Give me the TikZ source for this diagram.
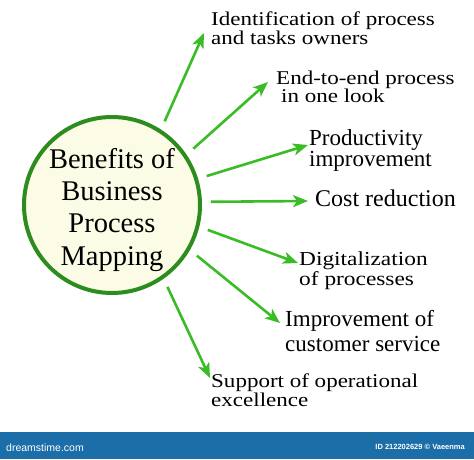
\documentclass[tikz,border=0pt]{standalone}
\usepackage{fontspec}
\setmainfont{Liberation Serif}
\newfontfamily\widefont[FakeStretch=1.18]{Liberation Serif}
\newfontfamily\barfont{Liberation Sans}
\usetikzlibrary{arrows.meta}

\definecolor{arrowgreen}{RGB}{58,188,38}
\definecolor{ringgreen}{RGB}{45,140,30}
\definecolor{cream}{RGB}{252,252,230}
\definecolor{barblue}{RGB}{27,110,168}

\begin{document}
\begin{tikzpicture}[x=1pt,y=-1pt]

% Diagram style
\tikzset{
    benefit/.style={inner sep=0, align=left, anchor=base west},
    benarrow/.style={draw=arrowgreen, line width=2.6pt, shorten <=9pt,
        -{Stealth[length=15pt,width=12pt,inset=4pt]}}
}
\useasboundingbox (0,0) rectangle (474,459);

% Centre
\node[circle, draw=ringgreen, fill=cream, line width=4pt, minimum size=176pt] (MAP) at (112,205) {};
\node[align=center, anchor=base, inner sep=0, font=\fontsize{28.5}{32.2}\selectfont] (TITLE) at (112,265) {Benefits of\\Business\\Process\\Mapping};

% Arrow tips
\coordinate (TIP1) at (204,33);
\coordinate (TIP2) at (268,82);
\coordinate (TIP3) at (308,145);
\coordinate (TIP4) at (308,201);
\coordinate (TIP5) at (298,263);
\coordinate (TIP6) at (280,323);
\coordinate (TIP7) at (210,378);
\draw[benarrow] (MAP.57) -- (TIP1);
\draw[benarrow] (MAP.34) -- (TIP2);
\draw[benarrow] (MAP.17.6) -- (TIP3);
\draw[benarrow] (MAP.2.5) -- (TIP4);
\draw[benarrow] (MAP.-14.3) -- (TIP5);
\draw[benarrow] (MAP.-30.5) -- (TIP6);
\draw[benarrow] (MAP.-55.3) -- (TIP7);

% Benefits (anchored on the last line)
\node[benefit, font=\widefont\fontsize{19.5}{16.6}\selectfont] (BEN1) at (211,44.3) {Identification of process\\and tasks owners};
\node[benefit, font=\widefont\fontsize{19.5}{16.7}\selectfont] (BEN2) at (276,102.7) {End-to-end process\\\hspace{5pt}in one look};
\node[benefit, font=\fontsize{23}{15}\selectfont] (BEN3) at (309,166.7) {Productivity\\improvement};
\node[benefit, font=\fontsize{24}{24}\selectfont] (BEN4) at (315,206.7) {Cost reduction};
\node[benefit, font=\widefont\fontsize{19.8}{16.7}\selectfont] (BEN5) at (299,285) {Digitalization\\of processes};
\node[benefit, font=\fontsize{23}{25}\selectfont] (BEN6) at (285,351.7) {Improvement of\\customer service};
\node[benefit, font=\widefont\fontsize{19.5}{16}\selectfont] (BEN7) at (211,406) {Support of operational\\excellence};

% Bottom bar
\fill[barblue] (0,432) rectangle (474,459);
\node[anchor=base west, inner sep=0, text=white, font=\barfont\fontsize{10.5}{12}\selectfont] (SITE) at (6,451) {dreamstime.com};
\node[anchor=base east, inner sep=0, text=white, font=\barfont\bfseries\fontsize{7.5}{9}\selectfont] (IMGID) at (465,449) {ID 212202629 \textcopyright{} Vaeenma};
\end{tikzpicture}
\end{document}
